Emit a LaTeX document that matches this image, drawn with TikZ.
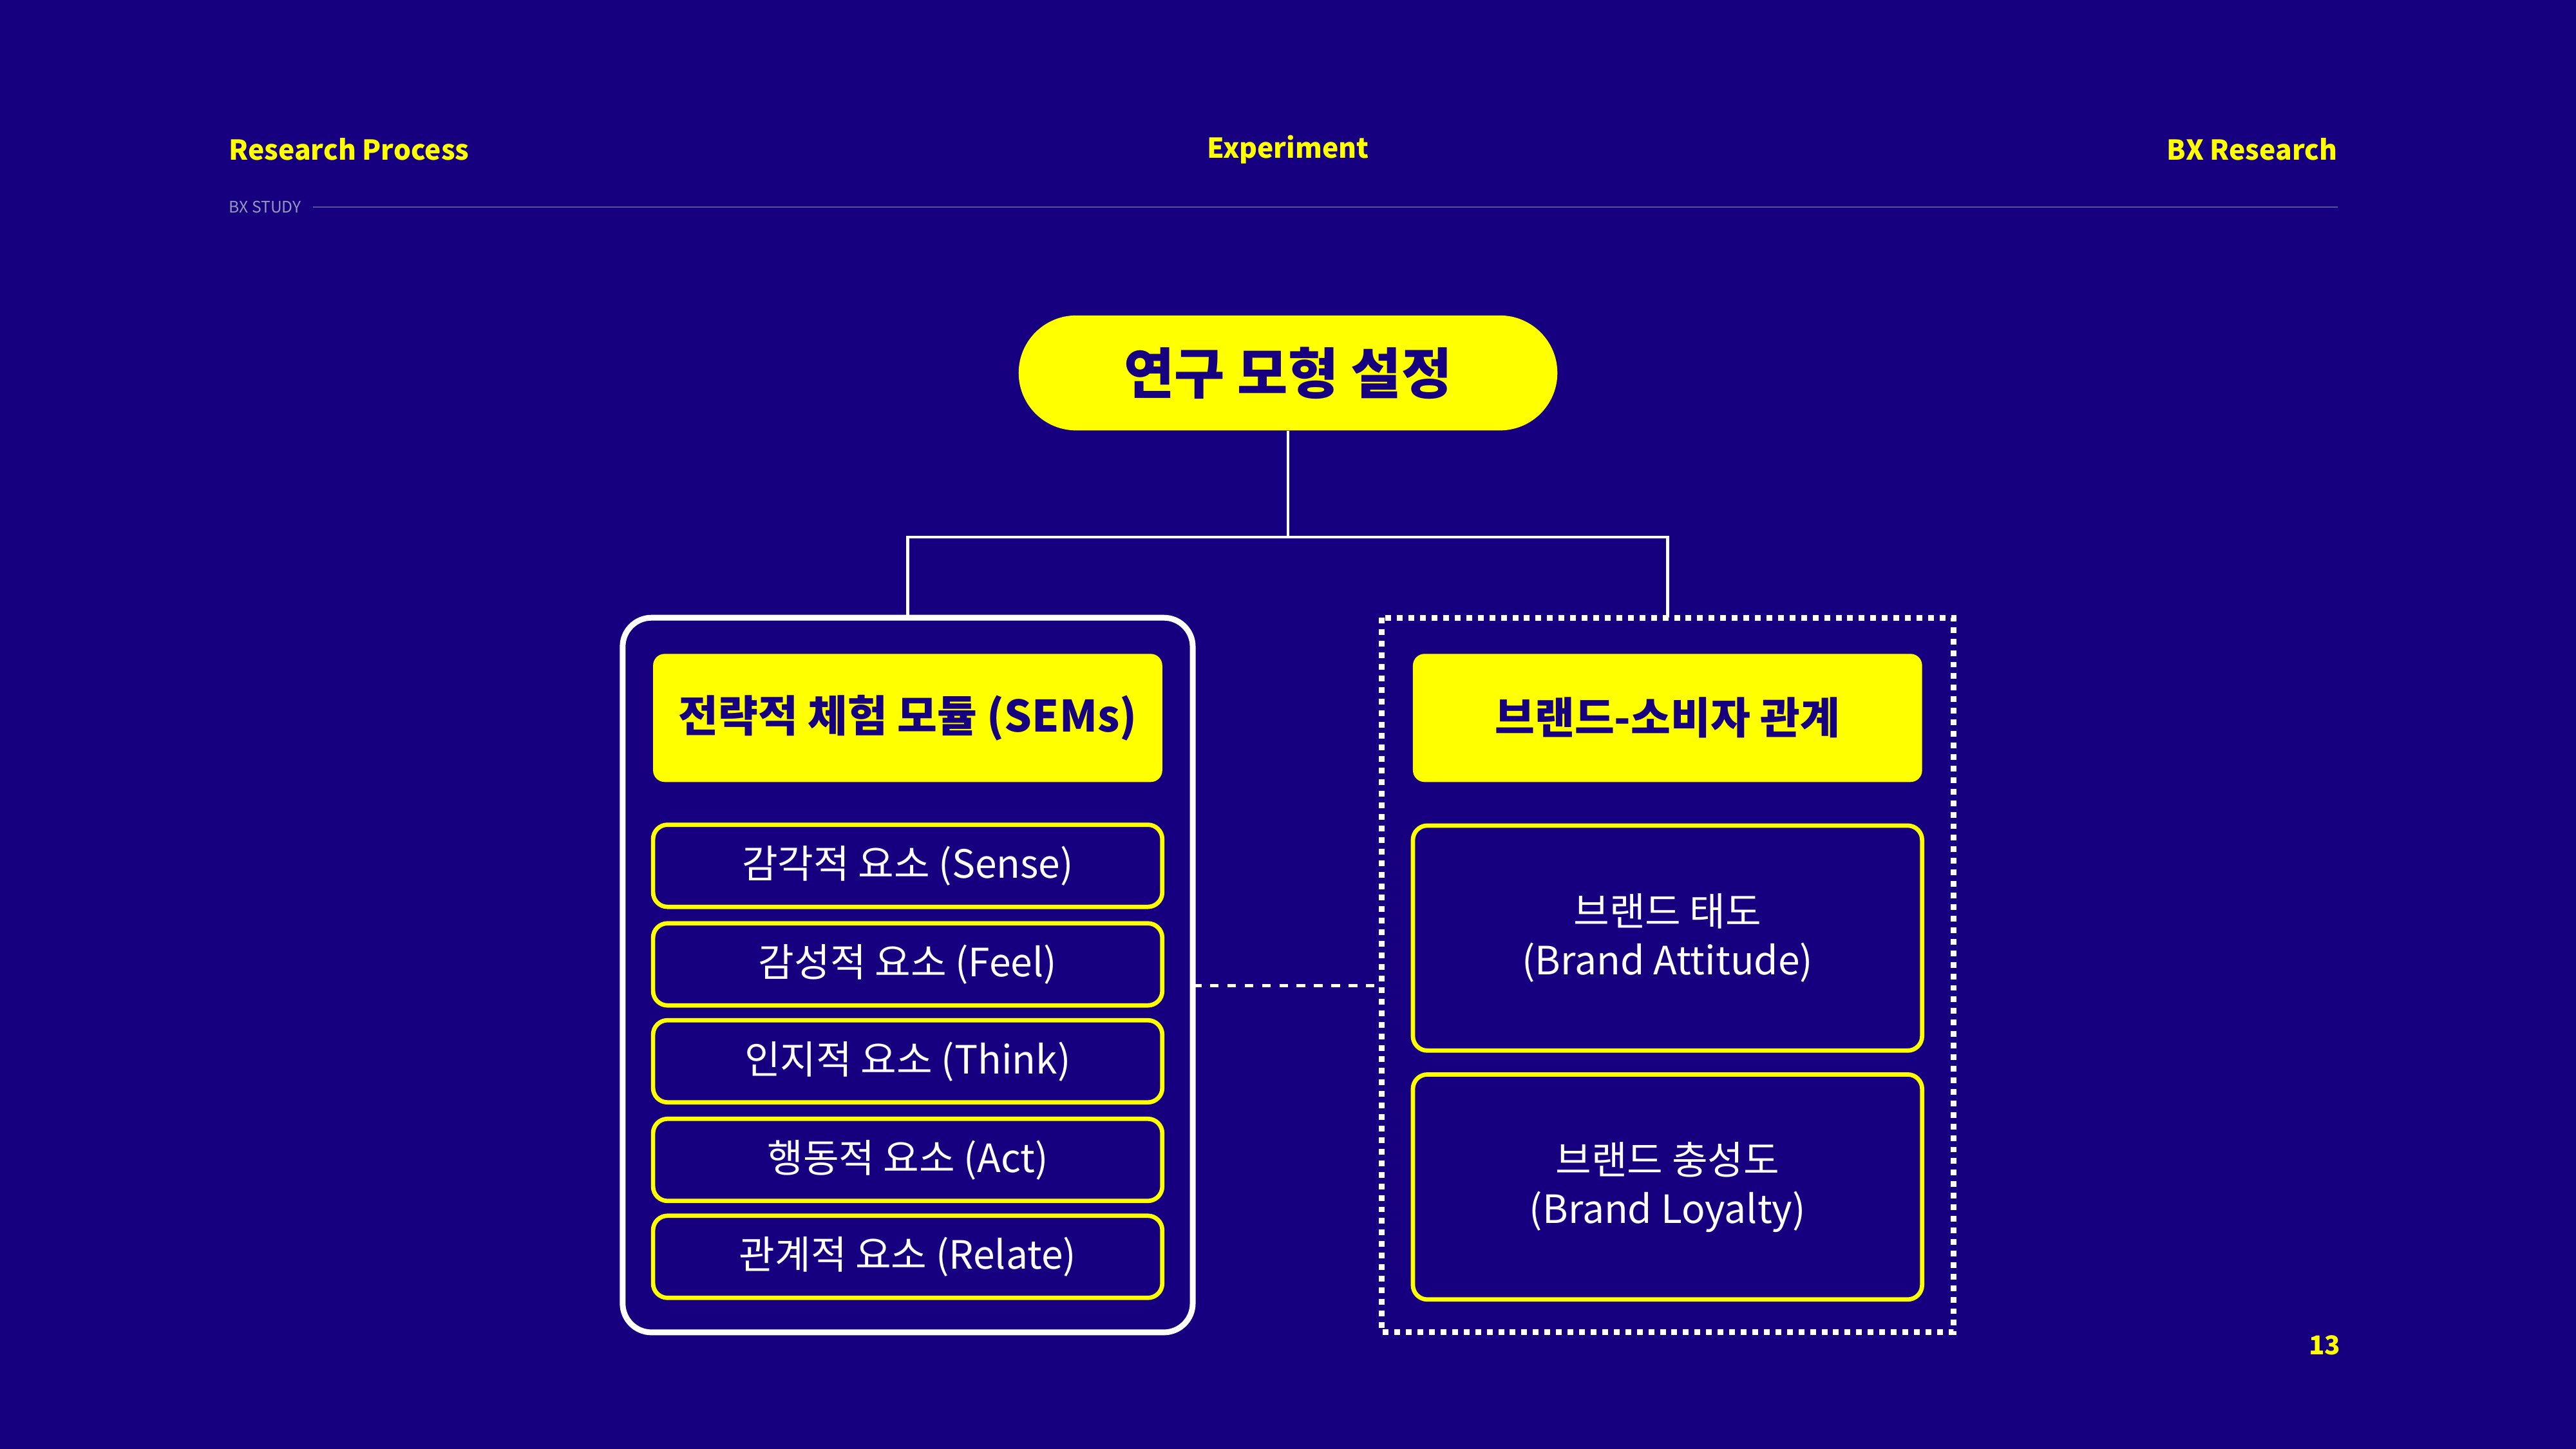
\documentclass[tikz,border=0pt]{standalone}
\usepackage{fontspec}
\setmainfont{Noto Sans CJK KR}
\usepackage{tikz}
\usetikzlibrary{positioning}
\definecolor{bxblue}{RGB}{22,0,128}
\definecolor{bxyellow}{RGB}{255,255,0}
\definecolor{bxgray}{RGB}{150,150,190}

\begin{document}
\begin{tikzpicture}
  [x=0.02cm,y=-0.02cm,
   head/.style={text=bxyellow,font=\fontsize{9.5pt}{11pt}\selectfont\bfseries,inner sep=0pt},
   title/.style={fill=bxyellow,text=bxblue,rounded corners=0.7cm,minimum width=6.56cm,minimum height=1.4cm,font=\fontsize{19pt}{22pt}\selectfont\bfseries},
   group/.style={fill=bxyellow,text=bxblue,rounded corners=4pt,minimum width=6.2cm,minimum height=1.56cm,font=\fontsize{15pt}{18pt}\selectfont\bfseries},
   item/.style={draw=bxyellow,line width=1.5pt,rounded corners=5pt,text=white,minimum width=6.2cm,minimum height=1cm,font=\fontsize{13.5pt}{17pt}\selectfont,align=center},
   big/.style={item,minimum height=2.74cm}]
  \fill[bxblue] (0,0) rectangle (1568,882);

  % header
  \node[head,anchor=west] (rp) at (139,91) {Research Process};
  \node[head] (ex) at (784,91) {Experiment};
  \node[head,anchor=east] (bx) at (1423,91) {BX Research};
  \node[text=bxgray,font=\fontsize{5.5pt}{6pt}\selectfont,anchor=west,inner sep=0pt] (st) at (139,126) {BX STUDY};
  \coordinate (le) at (1423,126);
  \draw[bxgray,line width=0.4pt] (st.east) ++(7,0) -- (le);

  % title
  \node[title] (t) at (784,227) {연구 모형 설정};

  % frames
  \draw[white,line width=2pt,rounded corners=10pt] (379,376) rectangle (726,811);
  \draw[white,line width=2pt,dotted] (841,376) rectangle (1189,811);

  \node[group] (sem) at (552.5,437) {전략적 체험 모듈 (SEMs)};
  \node[group] (rel) at (1015,437) {브랜드-소비자 관계};

  \node[item] (s1) at (552.5,527) {감각적 요소 (Sense)};
  \node[item] (s2) at (552.5,587) {감성적 요소 (Feel)};
  \node[item] (s3) at (552.5,646) {인지적 요소 (Think)};
  \node[item] (s4) at (552.5,706) {행동적 요소 (Act)};
  \node[item] (s5) at (552.5,765) {관계적 요소 (Relate)};

  \node[big] (r1) at (1015,571) {브랜드 태도\\(Brand Attitude)};
  \node[big] (r2) at (1015,722.5) {브랜드 충성도\\(Brand Loyalty)};

  % connectors
  \coordinate (lt) at (552.5,376);
  \coordinate (rt) at (1015,376);
  \draw[white,line width=1pt] (t.south) |- (552.5,327) -- (lt);
  \draw[white,line width=1pt] (t.south) |- (1015,327) -- (rt);
  \coordinate (dl) at (726,600);
  \coordinate (dr) at (841,600);
  \draw[white,line width=1pt,dash pattern=on 3pt off 3pt] (dl) -- (dr);

  \node[text=bxyellow,font=\fontsize{9pt}{10pt}\selectfont\bfseries] (pg) at (1415,819) {13};
\end{tikzpicture}
\end{document}
